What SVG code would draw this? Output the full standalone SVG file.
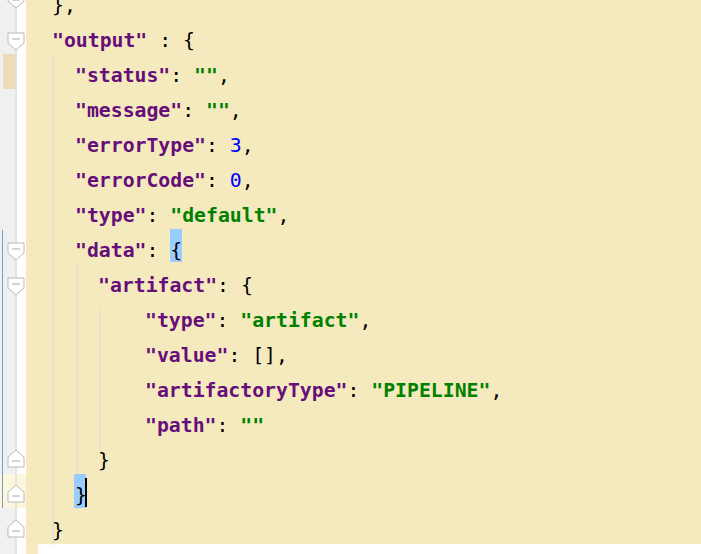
<svg xmlns="http://www.w3.org/2000/svg" width="701" height="554" viewBox="0 0 701 554">
<style>
text{font-family:"DejaVu Sans Mono","Liberation Mono",monospace;font-size:19.8px;white-space:pre}
.k{fill:#660e7a;font-weight:bold}.s{fill:#008000;font-weight:bold}.n{fill:#0000ff}.p{fill:#000}
.g{stroke:#d8d8d8;stroke-width:1}
.f{fill:#fff;stroke:#b8b8b8;stroke-width:1}
.m{stroke:#aaa;stroke-width:1}
</style>
<rect width="701" height="554" fill="#f5eabd"/>
<rect x="0" y="0" width="26" height="554" fill="#f0f0f0"/>
<rect x="17" y="0" width="9" height="554" fill="#fff"/>
<rect x="38" y="544" width="663" height="10" fill="#fff"/>
<rect x="0" y="474" width="26" height="34" fill="#fbf6dc"/>
<rect x="3" y="54" width="13" height="35" fill="#ecdcb8"/>
<line x1="16" y1="0" x2="16" y2="554" class="g"/>
<line x1="2.5" y1="230" x2="2.5" y2="508" stroke="#7a9cc8" stroke-width="1"/>
<g id="guides">
<line x1="53" y1="55" x2="53" y2="545" class="g"/>
<line x1="77" y1="265" x2="77" y2="510" class="g"/>
<line x1="100" y1="310" x2="100" y2="450" class="g"/>
</g>
<g id="folds">
<path d="M8,-10 H24 V1 L16,8 L8,1 Z" class="f"/>
<path d="M8,33 H24 V43 L16,50 L8,43 Z" class="f"/><line x1="12" y1="39" x2="20" y2="39" class="m"/>
<path d="M8,243 H24 V253 L16,260 L8,253 Z" class="f"/><line x1="12" y1="249" x2="20" y2="249" class="m"/>
<path d="M8,278 H24 V288 L16,295 L8,288 Z" class="f"/><line x1="12" y1="284" x2="20" y2="284" class="m"/>
<path d="M8,457 L16,450 L24,457 V467 H8 Z" class="f"/><line x1="12" y1="461" x2="20" y2="461" class="m"/>
<path d="M8,492 L16,485 L24,492 V502 H8 Z" class="f"/><line x1="12" y1="496" x2="20" y2="496" class="m"/>
<path d="M8,527 L16,520 L24,527 V537 H8 Z" class="f"/><line x1="12" y1="531" x2="20" y2="531" class="m"/>
<line x1="12" y1="0" x2="20" y2="0" class="m"/>
</g>
<rect x="170" y="229" width="12" height="33" fill="#99ccff"/>
<rect x="74" y="474" width="12" height="34" fill="#99ccff"/>
<line x1="86" y1="478" x2="86" y2="507" stroke="#000" stroke-width="2"/>
<g id="code">
<text x="52" y="12"><tspan class="p">},</tspan></text>
<text x="52" y="47"><tspan class="k">"output"</tspan><tspan class="p"> : {</tspan></text>
<text x="75" y="82"><tspan class="k">"status"</tspan><tspan class="p">: </tspan><tspan class="s">""</tspan><tspan class="p">,</tspan></text>
<text x="75" y="117"><tspan class="k">"message"</tspan><tspan class="p">: </tspan><tspan class="s">""</tspan><tspan class="p">,</tspan></text>
<text x="75" y="152"><tspan class="k">"errorType"</tspan><tspan class="p">: </tspan><tspan class="n">3</tspan><tspan class="p">,</tspan></text>
<text x="75" y="187"><tspan class="k">"errorCode"</tspan><tspan class="p">: </tspan><tspan class="n">0</tspan><tspan class="p">,</tspan></text>
<text x="75" y="222"><tspan class="k">"type"</tspan><tspan class="p">: </tspan><tspan class="s">"default"</tspan><tspan class="p">,</tspan></text>
<text x="75" y="257"><tspan class="k">"data"</tspan><tspan class="p">: {</tspan></text>
<text x="98" y="292"><tspan class="k">"artifact"</tspan><tspan class="p">: {</tspan></text>
<text x="145" y="327"><tspan class="k">"type"</tspan><tspan class="p">: </tspan><tspan class="s">"artifact"</tspan><tspan class="p">,</tspan></text>
<text x="145" y="362"><tspan class="k">"value"</tspan><tspan class="p">: [],</tspan></text>
<text x="145" y="397"><tspan class="k">"artifactoryType"</tspan><tspan class="p">: </tspan><tspan class="s">"PIPELINE"</tspan><tspan class="p">,</tspan></text>
<text x="145" y="432"><tspan class="k">"path"</tspan><tspan class="p">: </tspan><tspan class="s">""</tspan></text>
<text x="98" y="467" class="p">}</text>
<text x="75" y="502" class="p">}</text>
<text x="52" y="537" class="p">}</text>
</g>
</svg>
